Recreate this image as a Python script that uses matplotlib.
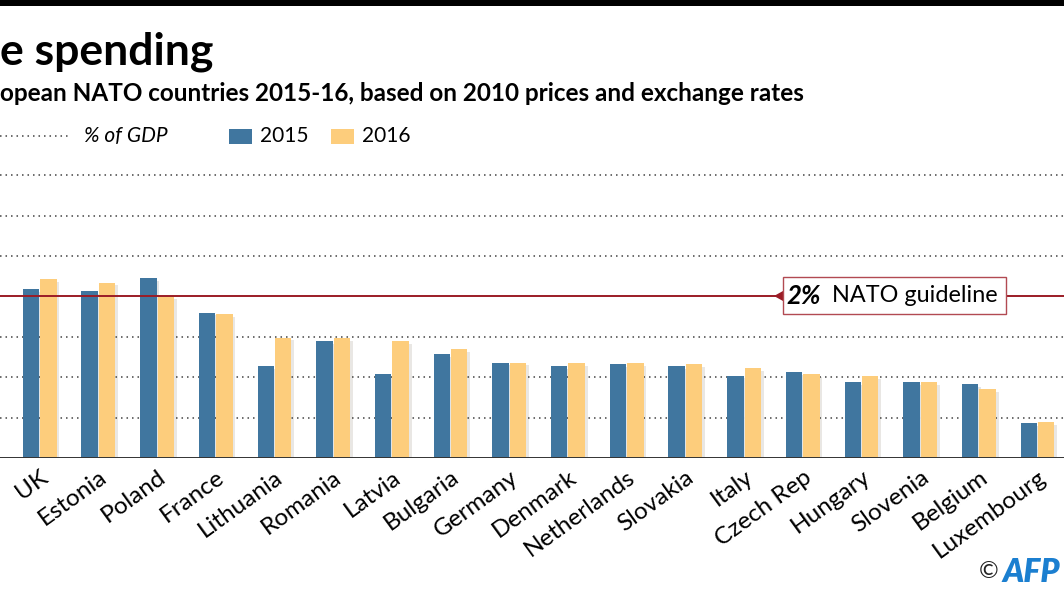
import matplotlib.pyplot as plt
import matplotlib.patheffects as pe
import numpy as np
from matplotlib.patches import Rectangle, Polygon
from matplotlib.lines import Line2D

plt.rcParams['font.family'] = ['Lato', 'DejaVu Sans']

countries = ['UK', 'Estonia', 'Poland', 'France', 'Lithuania', 'Romania', 'Latvia',
             'Bulgaria', 'Germany', 'Denmark', 'Netherlands', 'Slovakia', 'Italy',
             'Czech Rep', 'Hungary', 'Slovenia', 'Belgium', 'Luxembourg']
gdp_2015 = [2.09, 2.07, 2.23, 1.80, 1.14, 1.45, 1.04, 1.29, 1.18, 1.14, 1.16, 1.14,
            1.02, 1.06, 0.94, 0.94, 0.91, 0.43]
gdp_2016 = [2.21, 2.17, 2.00, 1.78, 1.49, 1.48, 1.45, 1.35, 1.18, 1.17, 1.17, 1.16,
            1.11, 1.04, 1.01, 0.94, 0.85, 0.44]
guideline = 2.0
grid_levels = [0.5, 1.0, 1.5, 2.5, 3.0, 3.5]

blue = '#40769f'
yellow = '#fdcd7c'
red = '#9b1c26'

W, H = 1064, 600
fig = plt.figure(figsize=(W / 100, H / 100), dpi=100)

# top black band
fig.add_artist(Rectangle((0, 1 - 6 / H), 1, 6 / H, transform=fig.transFigure,
                         facecolor='black', edgecolor='none'))

ax = fig.add_axes([0, (H - 458) / H, 1, 298 / H])
x = np.arange(len(countries))
w = 0.28
shadow = [pe.SimplePatchShadow(offset=(2, -2), alpha=0.12), pe.Normal()]
b1 = ax.bar(x - 0.148, gdp_2015, w, color=blue, zorder=3)
b2 = ax.bar(x + 0.148, gdp_2016, w, color=yellow, zorder=3)
for b in list(b1) + list(b2):
    b.set_path_effects(shadow)

for g in grid_levels:
    ax.axhline(g, color='#444444', lw=1.1, ls=(0, (1, 2.6)), zorder=1)
ax.axhline(0, color='#333333', lw=1.4, zorder=4)
ax.axhline(guideline, color=red, lw=1.4, zorder=5)

ax.set_xlim(-0.675, 17.45)
ax.set_ylim(0, 298 / 80.8)
for s in ax.spines.values():
    s.set_visible(False)
ax.set_yticks([])
ax.set_xticks(x)
ax.set_xticklabels(countries, rotation=36, ha='right', va='top',
                   rotation_mode='anchor', fontsize=17.5)
ax.tick_params(axis='x', length=0, pad=6)

# guideline callout
yc = (H - 296) / H
fig.add_artist(Polygon([(774 / W, yc), (783 / W, yc + 5 / H), (783 / W, yc - 5 / H)],
                       closed=True, transform=fig.transFigure, facecolor=red,
                       edgecolor='none', zorder=6))
fig.add_artist(Rectangle((782.7 / W, (H - 314) / H), (1006 - 782.7) / W, 36.7 / H,
                         transform=fig.transFigure, facecolor='white',
                         edgecolor='#b24a52', lw=1.0, zorder=6))
fig.text(786 / W, yc, '2%', fontsize=18.5, fontweight='bold',
         fontstyle='italic', va='center', ha='left', zorder=7)
fig.text(832 / W, yc, 'NATO guideline', fontsize=16.8,
         va='center', ha='left', zorder=7)

# titles
fig.text(0, (H - 65) / H, 'e spending', fontsize=32, fontweight='bold',
         va='baseline', ha='left')
fig.text(0, (H - 101) / H, 'opean NATO countries 2015-16, based on 2010 prices and exchange rates',
         fontsize=17.5, fontweight='bold', va='baseline', ha='left')

# legend row
ly = (H - 136) / H
fig.add_artist(Line2D([0, 70 / W], [ly, ly], transform=fig.transFigure,
                      color='#444444', lw=1.1, ls=(0, (1, 2.6))))
fig.text(84 / W, ly, '% of GDP', fontsize=15, fontstyle='italic', va='center', ha='left')
fig.add_artist(Rectangle((229 / W, (H - 144) / H), 23 / W, 15 / H,
                         transform=fig.transFigure, facecolor=blue, edgecolor='none'))
fig.text(260 / W, ly, '2015', fontsize=15, va='center', ha='left')
fig.add_artist(Rectangle((331 / W, (H - 144) / H), 23 / W, 15 / H,
                         transform=fig.transFigure, facecolor=yellow, edgecolor='none'))
fig.text(362 / W, ly, '2016', fontsize=15, va='center', ha='left')

# credit
fig.text(999 / W, (H - 572) / H, '©', fontsize=17, va='center', ha='right', color='#222222')
fig.text(1002 / W, (H - 572) / H, 'AFP', fontsize=23, fontweight='heavy',
         fontstyle='italic', va='center', ha='left', color='#1b7fd0')

fig.savefig('out.png', dpi=100)
